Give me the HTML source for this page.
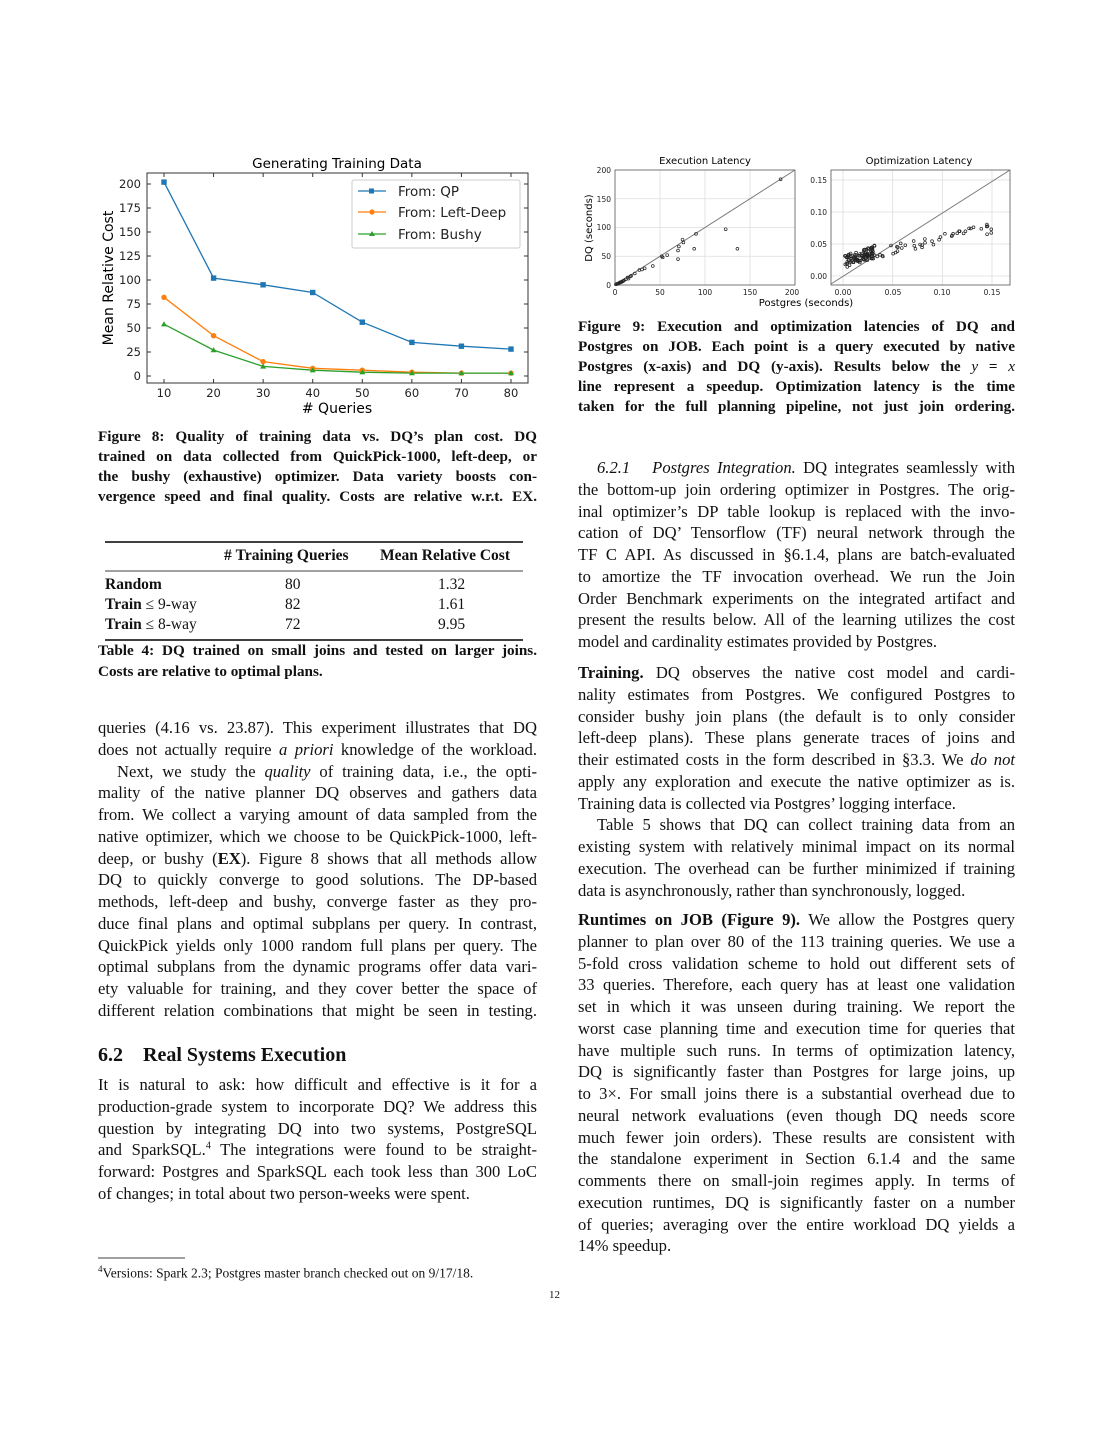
<!DOCTYPE html>
<html><head><meta charset="utf-8">
<style>
html,body{margin:0;padding:0;background:#fff;}
body{width:1113px;height:1440px;position:relative;overflow:hidden;font-family:"Liberation Serif",serif;color:#111;}
.p{position:absolute;font-size:16.6px;line-height:21.77px;}
.p span{display:block;white-space:nowrap;}
.j{text-align:justify;text-align-last:justify;white-space:nowrap!important;}
.cap{position:absolute;font-weight:bold;font-size:15.2px;line-height:20px;}
.cap span{display:block;white-space:nowrap;}
.ind{text-indent:19px;}
svg{position:absolute;left:0;top:0;}
</style></head>
<body>
<svg id="s" width="1113" height="1440" font-family="DejaVu Sans, sans-serif">
<rect x="147" y="173" width="381" height="210" fill="none" stroke="#333" stroke-width="1"/>
<g font-size="11.5" fill="#222" text-anchor="end" id="lyt"></g>
<g font-size="11.5" fill="#222" text-anchor="middle" id="lxt"></g>
<text x="337" y="168" font-size="13.5" text-anchor="middle">Generating Training Data</text>
<text x="337" y="413" font-size="14" text-anchor="middle"># Queries</text>
<text transform="translate(113,278) rotate(-90)" font-size="14" text-anchor="middle">Mean Relative Cost</text>
<polyline fill="none" stroke="#1f77b4" stroke-width="1.3" points="164,182.1 213.6,278.1 263.1,284.8 312.7,292.5 362.3,322.2 411.9,342.4 461.4,346.2 511,349.1"/>
<polyline fill="none" stroke="#ff7f0e" stroke-width="1.3" points="164,297.3 213.6,335.7 263.1,361.6 312.7,368.3 362.3,370.2 411.9,372.2 461.4,373.1 511,373.1"/>
<polyline fill="none" stroke="#2ca02c" stroke-width="1.3" points="164,324.2 213.6,350.1 263.1,366.4 312.7,370.2 362.3,372.2 411.9,373.1 461.4,373.1 511,373.1"/>
<g id="mk"></g>
<rect x="352" y="180" width="168" height="68" fill="#fff" stroke="#ccc" stroke-width="1" rx="2"/>
<line x1="358" y1="191" x2="386" y2="191" stroke="#1f77b4" stroke-width="1.3"/><rect x="369" y="188.5" width="5" height="5" fill="#1f77b4"/>
<line x1="358" y1="212" x2="386" y2="212" stroke="#ff7f0e" stroke-width="1.3"/><circle cx="372" cy="212" r="2.6" fill="#ff7f0e"/>
<line x1="358" y1="234" x2="386" y2="234" stroke="#2ca02c" stroke-width="1.3"/><path d="M372,231 l3,5 h-6z" fill="#2ca02c"/>
<g font-size="13.5" fill="#222"><text x="398" y="196">From: QP</text><text x="398" y="217">From: Left-Deep</text><text x="398" y="239">From: Bushy</text></g>

<g id="g1" stroke="#ddd" stroke-width="0.8"></g>
<rect x="615" y="170" width="180" height="115" fill="none" stroke="#555" stroke-width="0.8"/>
<line x1="615" y1="285" x2="795" y2="170" stroke="#777" stroke-width="1"/>
<g id="p1" fill="none" stroke="#222" stroke-width="0.7"></g>
<text x="705" y="164" font-size="10" text-anchor="middle">Execution Latency</text>
<g font-size="7.5" fill="#222" text-anchor="end"><text x="611" y="288">0</text><text x="611" y="259">50</text><text x="611" y="230">100</text><text x="611" y="202">150</text><text x="611" y="173">200</text></g>
<g font-size="7.5" fill="#222" text-anchor="middle"><text x="615" y="295">0</text><text x="660" y="295">50</text><text x="705" y="295">100</text><text x="750" y="295">150</text><text x="792" y="295">200</text></g>
<text transform="translate(592,228) rotate(-90)" font-size="10" text-anchor="middle">DQ (seconds)</text>
<g id="g2" stroke="#ddd" stroke-width="0.8"></g>
<rect x="831" y="170" width="179" height="115" fill="none" stroke="#555" stroke-width="0.8"/>
<line x1="831" y1="284" x2="1010" y2="170" stroke="#777" stroke-width="1"/>
<g id="p2" fill="none" stroke="#222" stroke-width="0.7"></g>
<text x="919" y="164" font-size="10" text-anchor="middle">Optimization Latency</text>
<g font-size="7.5" fill="#222" text-anchor="end"><text x="827" y="279">0.00</text><text x="827" y="247">0.05</text><text x="827" y="215">0.10</text><text x="827" y="183">0.15</text></g>
<g font-size="7.5" fill="#222" text-anchor="middle"><text x="843" y="295">0.00</text><text x="893" y="295">0.05</text><text x="942" y="295">0.10</text><text x="992" y="295">0.15</text></g>
<text x="806" y="306" font-size="10" text-anchor="middle">Postgres (seconds)</text>

<line x1="105" y1="542" x2="523" y2="542" stroke="#000" stroke-width="1.6"/>
<line x1="105" y1="571" x2="523" y2="571" stroke="#000" stroke-width="0.8"/>
<line x1="105" y1="640" x2="523" y2="640" stroke="#000" stroke-width="1.6"/>
<line x1="98" y1="1258" x2="185" y2="1258" stroke="#000" stroke-width="0.8"/>
</svg>

<div class="cap" style="left:578px;top:317px;width:437px;">
<span class="j">Figure 9: Execution and optimization latencies of DQ and</span>
<span class="j">Postgres on JOB. Each point is a query executed by native</span>
<span class="j">Postgres (x-axis) and DQ (y-axis). Results below the <i style="font-weight:normal">y</i> = <i style="font-weight:normal">x</i></span>
<span class="j">line represent a speedup. Optimization latency is the time</span>
<span class="j">taken for the full planning pipeline, not just join ordering.</span>
</div>
<div class="cap" style="left:98px;top:427px;width:439px;">
<span class="j">Figure 8: Quality of training data vs. DQ’s plan cost. DQ</span>
<span class="j">trained on data collected from QuickPick-1000, left-deep, or</span>
<span class="j">the bushy (exhaustive) optimizer. Data variety boosts con-</span>
<span class="j">vergence speed and final quality. Costs are relative w.r.t. EX.</span>
</div>
<div style="position:absolute;left:105px;top:546px;width:418px;font-size:15.5px;line-height:20px;">
<div style="height:22px;font-weight:bold;"><span style="position:absolute;left:119px;">#&nbsp;Training Queries</span><span style="position:absolute;left:275px;">Mean Relative Cost</span></div>
<div style="position:absolute;top:29px;left:0;width:418px;">
<div style="position:relative;height:20px;"><b>Random</b><span style="position:absolute;left:180px;">80</span><span style="position:absolute;left:333px;">1.32</span></div>
<div style="position:relative;height:20px;"><b>Train</b> ≤ 9-way<span style="position:absolute;left:180px;">82</span><span style="position:absolute;left:333px;">1.61</span></div>
<div style="position:relative;height:20px;"><b>Train</b> ≤ 8-way<span style="position:absolute;left:180px;">72</span><span style="position:absolute;left:333px;">9.95</span></div>
</div></div>
<div class="cap" style="left:98px;top:640px;width:439px;line-height:21px;">
<span class="j">Table 4: DQ trained on small joins and tested on larger joins.</span>
<span>Costs are relative to optimal plans.</span>
</div>

<div class="p" style="left:98px;top:717px;width:439px;">
<span class="j">queries (4.16 vs. 23.87). This experiment illustrates that DQ</span>
<span class="j">does not actually require <i>a priori</i> knowledge of the workload.</span>
<span class="j ind">Next, we study the <i>quality</i> of training data, i.e., the opti-</span>
<span class="j">mality of the native planner DQ observes and gathers data</span>
<span class="j">from. We collect a varying amount of data sampled from the</span>
<span class="j">native optimizer, which we choose to be QuickPick-1000, left-</span>
<span class="j">deep, or bushy (<b>EX</b>). Figure 8 shows that all methods allow</span>
<span class="j">DQ to quickly converge to good solutions. The DP-based</span>
<span class="j">methods, left-deep and bushy, converge faster as they pro-</span>
<span class="j">duce final plans and optimal subplans per query. In contrast,</span>
<span class="j">QuickPick yields only 1000 random full plans per query. The</span>
<span class="j">optimal subplans from the dynamic programs offer data vari-</span>
<span class="j">ety valuable for training, and they cover better the space of</span>
<span class="j">different relation combinations that might be seen in testing.</span>
</div>
<div style="position:absolute;left:98px;top:1044px;font-size:20px;font-weight:bold;">6.2&nbsp;&nbsp;&nbsp;&nbsp;Real Systems Execution</div>
<div class="p" style="left:98px;top:1074px;width:439px;">
<span class="j">It is natural to ask: how difficult and effective is it for a</span>
<span class="j">production-grade system to incorporate DQ? We address this</span>
<span class="j">question by integrating DQ into two systems, PostgreSQL</span>
<span class="j">and SparkSQL.<sup style="font-size:10px;line-height:0">4</sup> The integrations were found to be straight-</span>
<span class="j">forward: Postgres and SparkSQL each took less than 300 LoC</span>
<span>of changes; in total about two person-weeks were spent.</span>
</div>
<div style="position:absolute;left:98px;top:1264px;font-size:13.5px;"><sup style="font-size:9px">4</sup>Versions: Spark 2.3; Postgres master branch checked out on 9/17/18.</div>
<div style="position:absolute;left:549px;top:1289px;font-size:11px;">12</div>

<div class="p" style="left:578px;top:457px;width:437px;">
<span class="j ind"><i>6.2.1&nbsp;&nbsp;&nbsp;Postgres Integration.</i> DQ integrates seamlessly with</span>
<span class="j">the bottom-up join ordering optimizer in Postgres. The orig-</span>
<span class="j">inal optimizer’s DP table lookup is replaced with the invo-</span>
<span class="j">cation of DQ’ Tensorflow (TF) neural network through the</span>
<span class="j">TF C API. As discussed in §6.1.4, plans are batch-evaluated</span>
<span class="j">to amortize the TF invocation overhead. We run the Join</span>
<span class="j">Order Benchmark experiments on the integrated artifact and</span>
<span class="j">present the results below. All of the learning utilizes the cost</span>
<span>model and cardinality estimates provided by Postgres.</span>
</div>
<div class="p" style="left:578px;top:662px;width:437px;">
<span class="j"><b>Training.</b> DQ observes the native cost model and cardi-</span>
<span class="j">nality estimates from Postgres. We configured Postgres to</span>
<span class="j">consider bushy join plans (the default is to only consider</span>
<span class="j">left-deep plans). These plans generate traces of joins and</span>
<span class="j">their estimated costs in the form described in §3.3. We <i>do not</i></span>
<span class="j">apply any exploration and execute the native optimizer as is.</span>
<span>Training data is collected via Postgres’ logging interface.</span>
<span class="j ind">Table 5 shows that DQ can collect training data from an</span>
<span class="j">existing system with relatively minimal impact on its normal</span>
<span class="j">execution. The overhead can be further minimized if training</span>
<span>data is asynchronously, rather than synchronously, logged.</span>
</div>
<div class="p" style="left:578px;top:909px;width:437px;">
<span class="j"><b>Runtimes on JOB (Figure 9).</b> We allow the Postgres query</span>
<span class="j">planner to plan over 80 of the 113 training queries. We use a</span>
<span class="j">5-fold cross validation scheme to hold out different sets of</span>
<span class="j">33 queries. Therefore, each query has at least one validation</span>
<span class="j">set in which it was unseen during training. We report the</span>
<span class="j">worst case planning time and execution time for queries that</span>
<span class="j">have multiple such runs. In terms of optimization latency,</span>
<span class="j">DQ is significantly faster than Postgres for large joins, up</span>
<span class="j">to 3×. For small joins there is a substantial overhead due to</span>
<span class="j">neural network evaluations (even though DQ needs score</span>
<span class="j">much fewer join orders). These results are consistent with</span>
<span class="j">the standalone experiment in Section 6.1.4 and the same</span>
<span class="j">comments there on small-join regimes apply. In terms of</span>
<span class="j">execution runtimes, DQ is significantly faster on a number</span>
<span class="j">of queries; averaging over the entire workload DQ yields a</span>
<span>14% speedup.</span>
</div>

<script>
var NS="http://www.w3.org/2000/svg";
function el(p,t,a,txt){var e=document.createElementNS(NS,t);for(var k in a)e.setAttribute(k,a[k]);if(txt!=null)e.textContent=txt;document.getElementById(p).appendChild(e);return e;}
for(var v=0;v<=200;v+=25){var y=376-0.96*v;el("lyt","text",{x:141,y:y+4},v);
 el("mk","line",{x1:147,y1:y,x2:151,y2:y,stroke:"#333"});el("mk","line",{x1:524,y1:y,x2:528,y2:y,stroke:"#333"});}
for(var q=10;q<=80;q+=10){var x=164+(q-10)*4.957;el("lxt","text",{x:x,y:397},q);
 el("mk","line",{x1:x,y1:383,x2:x,y2:379,stroke:"#333"});el("mk","line",{x1:x,y1:173,x2:x,y2:177,stroke:"#333"});}
var xs=[164,213.6,263.1,312.7,362.3,411.9,461.4,511];
var qp=[182.1,278.1,284.8,292.5,322.2,342.4,346.2,349.1],ld=[297.3,335.7,361.6,368.3,370.2,372.2,373.1,373.1],bu=[324.2,350.1,366.4,370.2,372.2,373.1,373.1,373.1];
for(var i=0;i<8;i++){el("mk","rect",{x:xs[i]-2.7,y:qp[i]-2.7,width:5.4,height:5.4,fill:"#1f77b4"});
 el("mk","circle",{cx:xs[i],cy:ld[i],r:2.7,fill:"#ff7f0e"});
 el("mk","path",{d:"M"+xs[i]+","+(bu[i]-3)+" l3,5.2 h-6z",fill:"#2ca02c"});}
for(var v=50;v<200;v+=50){var x=615+v*0.9,y=285-v*0.575;el("g1","line",{x1:x,y1:170,x2:x,y2:285});el("g1","line",{x1:615,y1:y,x2:795,y2:y});}
[0,0.05,0.1,0.15].forEach(function(v){var x=843+v*993.3,y=276-v*640;el("g2","line",{x1:x,y1:170,x2:x,y2:285});el("g2","line",{x1:831,y1:y,x2:1010,y2:y});});
var d1=[[1,1],[2,2],[3,2],[4,3],[5,4],[6,5],[7,5],[8,6],[9,7],[10,8],[12,10],[14,13],[15,11],[17,15],[18,16],[22,20],[27,26],[30,27],[33,29],[42,33],[52,50],[53,48],[58,52],[70,60],[70,45],[71,67],[75,79],[76,74],[88,63],[90,89],[123,97],[136,63],[184,184]];
d1.forEach(function(p){el("p1","circle",{cx:615+p[0]*0.9,cy:285-p[1]*0.575,r:1.4});});
var s=7;function r(){s=(s*16807)%2147483647;return s/2147483647;}
for(var i=0;i<100;i++){var x=0.002+r()*0.03,y=0.012+r()*0.02+x*0.5;el("p2","circle",{cx:843+x*993.3,cy:276-y*640,r:1.4});}
for(var i=0;i<45;i++){var x=0.03+r()*0.12,y=0.025+x*0.33+(r()-0.5)*0.016;el("p2","circle",{cx:843+x*993.3,cy:276-y*640,r:1.4});}
</script>
</body></html>
